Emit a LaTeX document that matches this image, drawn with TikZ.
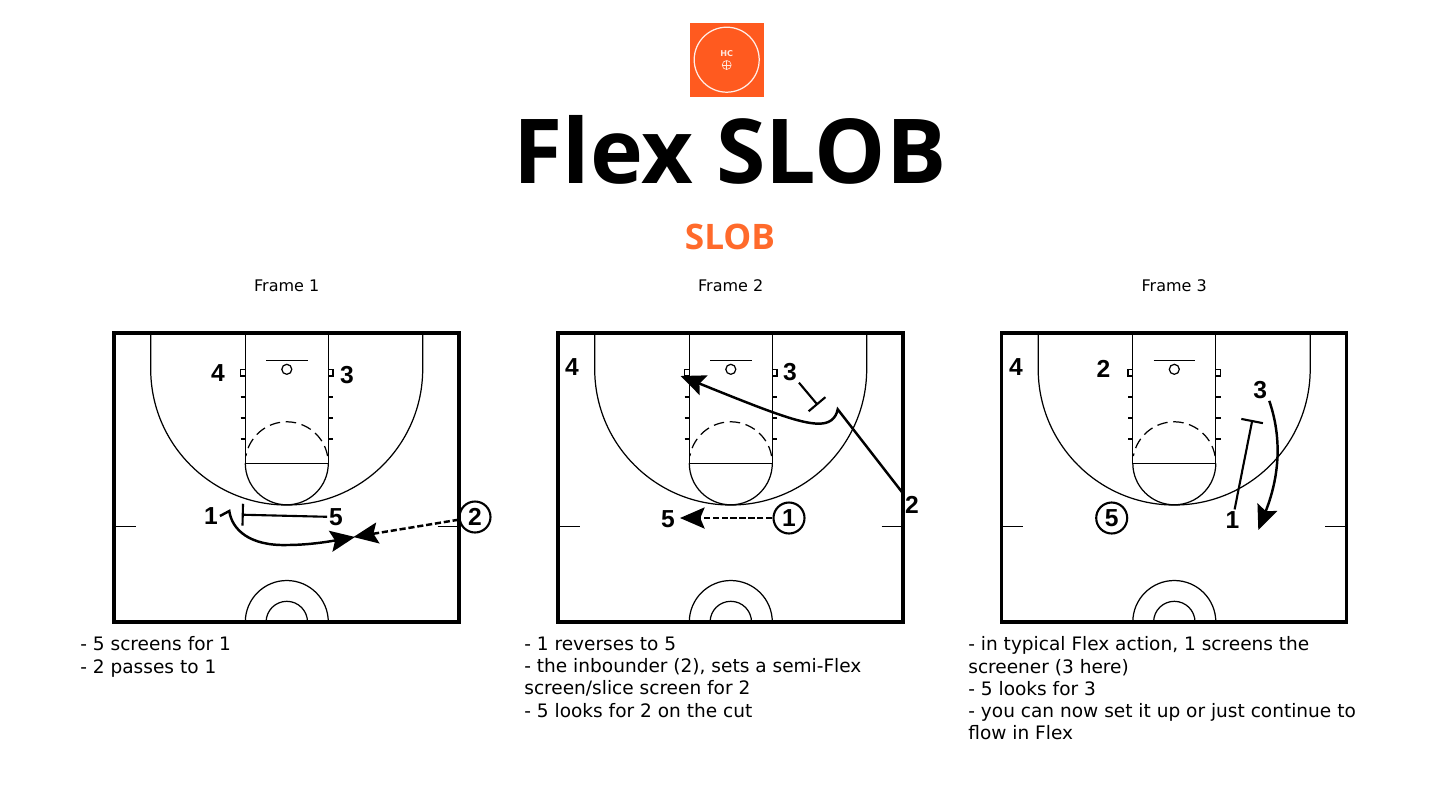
\documentclass[tikz,border=0pt]{standalone}
\usepackage{fontspec}
\setmainfont{DejaVu Sans}
\newfontfamily\numfont{Liberation Sans}
\newfontfamily\headfont{Open Sans}
\usetikzlibrary{arrows.meta,calc,positioning}
\definecolor{hcorange}{HTML}{FF5A1F}
\definecolor{sloborange}{HTML}{FF6A2B}
\tikzset{
 courtline/.style={line width=0.7pt,black},
 courtframe/.style={line width=2pt,black},
 framelabel/.style={font=\fontsize{9.1}{12}\selectfont,inner sep=0pt},
 notes/.style={font=\fontsize{10.55}{12.65}\selectfont,align=left,anchor=north west,inner sep=0pt},
 player/.style={font=\numfont\bfseries\fontsize{14}{14}\selectfont,inner sep=1pt},
 ballplayer/.style={player,draw,circle,line width=1.2pt,minimum size=31*0.02cm,inner sep=0pt},
 cut/.style={line width=1.4pt,-{Stealth[length=14pt,width=12pt,inset=2.5pt]}},
 pass/.style={cut,dashed,dash pattern=on 3.5pt off 1.6pt},
 screenline/.style={line width=1.2pt,-{Bar[width=12.5pt,line width=1.2pt]}},
}
\begin{document}
\begin{tikzpicture}[x=0.02cm,y=0.02cm]
 \useasboundingbox (0,0) rectangle (1456,-795);
 \fill[white] (0,0) rectangle (1456,-795);

 \fill[hcorange] (689.5,-22.7) rectangle (764,-96.7);
 \draw[white!90!hcorange,line width=0.7pt] (726.7,-59.7) circle (32.5);
 \node[white!85!hcorange,font=\fontsize{4.6}{5}\selectfont\bfseries,inner sep=0pt] (logotext) at (726.7,-53.5) {HC};
 \draw[white!85!hcorange,line width=0.35pt] (726.7,-65) circle (4.5);
 \draw[white!85!hcorange,line width=0.35pt] (722.2,-65) -- (731.2,-65) (726.7,-60.5) -- (726.7,-69.5);
 \node[font=\headfont\bfseries\fontsize{51}{52}\selectfont,inner sep=0pt] (title) at (730,-150) {Flex SLOB};
 \node[sloborange,font=\headfont\bfseries\fontsize{20}{21}\selectfont,inner sep=0pt] (subtitle) at (730,-237) {SLOB};

 \foreach \ox/\num in {0/1,444/2,887.5/3}{
  \begin{scope}[xshift=\ox*0.02cm]
   \node[framelabel] (frame\num) at (286.7,-285.5) {Frame \num};
   \draw[courtline] (150.7,-333) -- (150.7,-369) arc[start angle=180,end angle=360,radius=136] -- (422.7,-333);
   \fill[white] (245.3,-463.3) arc[start angle=180,end angle=360,radius=41.5] -- cycle;
   \draw[courtline,fill=white] (245.3,-333) rectangle (328.3,-463.3);
   \draw[courtline] (245.3,-463.3) arc[start angle=180,end angle=360,radius=41.5];
   \draw[courtline,dash pattern=on 6pt off 3.2pt] (327.6,-456.1) arc[start angle=10,end angle=170,radius=41.5];
   \draw[courtline] (266,-360.3) -- (307.7,-360.3);
   \draw[courtline] (286.8,-369.3) circle (5);
   \draw[courtline] (240.5,-369.3) rectangle (245.3,-376);
   \draw[courtline] (328.3,-369.3) rectangle (333,-376);
   \foreach \ty in {397,418,439}{
    \draw[courtline] (240.5,-\ty) -- (245.3,-\ty);
    \draw[courtline] (328.3,-\ty) -- (333,-\ty);
   }
   \draw[courtline] (114,-526.3) -- (135.6,-526.3);
   \draw[courtline] (437.7,-526.3) -- (459,-526.3);
   \draw[courtline] (245.3,-622) arc[start angle=180,end angle=0,radius=41.5];
   \draw[courtline] (266.1,-622) arc[start angle=180,end angle=0,radius=20.7];
   \draw[courtframe] (114,-333) rectangle (459,-622);
  \end{scope}
 }

 \node[player] (aFour) at (218,-373) {4};
 \node[player] (aThree) at (347,-375) {3};
 \node[player] (aOne) at (211,-516) {1};
 \node[player] (aFive) at (336,-517) {5};
 \node[ballplayer] (aTwo) at (475,-517) {2};
 \coordinate (aScreen) at (241.7,-514.7);
 \coordinate (aCut) at (355,-537);
 \coordinate (aPass) at (353.5,-537);
 \coordinate (aBend) at (229.3,-511);
 \draw[screenline] (aFive) -- (aScreen);
 \draw[pass] (aTwo) -- (aPass);
 \draw[cut] (aOne.east) -- (aBend) .. controls (232,-530) and (250,-546) .. (287,-545) .. controls (310,-545) and (332,-541) .. (aCut);

 \node[player] (bFour) at (572,-367) {4};
 \node[player] (bThree) at (790,-372) {3};
 \node[player] (bFive) at (668,-519) {5};
 \node[player] (bTwo) at (912,-505) {2};
 \node[ballplayer] (bOne) at (789,-518) {1};
 \coordinate (bScreen) at (817.7,-405);
 \coordinate (bBend) at (837.7,-409.3);
 \coordinate (bCut) at (680.7,-376);
 \coordinate (bPass) at (680,-518);
 \draw[screenline] (bThree) -- (bScreen);
 \draw[pass] (bOne) -- (bPass);
 \draw[cut] (bTwo) -- (bBend) .. controls (836,-418) and (830,-425) .. (815,-423.5) .. controls (795,-422) and (760,-408) .. (bCut);

 \node[player] (cFour) at (1016,-367) {4};
 \node[player] (cTwo) at (1103.5,-368.5) {2};
 \node[player] (cThree) at (1260.3,-390) {3};
 \node[player] (cOne) at (1232.5,-520) {1};
 \node[ballplayer] (cFive) at (1111.7,-518) {5};
 \coordinate (cScreen) at (1252.3,-420);
 \coordinate (cCut) at (1258.3,-530);
 \draw[screenline] (cOne) -- (cScreen);
 \draw[cut] (cThree.south east) .. controls (1280,-432) and (1282,-470) .. (cCut);

 \node[notes] (aNotes) at (80,-636.5) {- 5 screens for 1\\- 2 passes to 1};
 \node[notes] (bNotes) at (524,-636.5) {- 1 reverses to 5\\- the inbounder (2), sets a semi-Flex\\screen/slice screen for 2\\- 5 looks for 2 on the cut};
 \node[notes] (cNotes) at (968,-636.5) {- in typical Flex action, 1 screens the\\screener (3 here)\\- 5 looks for 3\\- you can now set it up or just continue to\\flow in Flex};
\end{tikzpicture}
\end{document}
